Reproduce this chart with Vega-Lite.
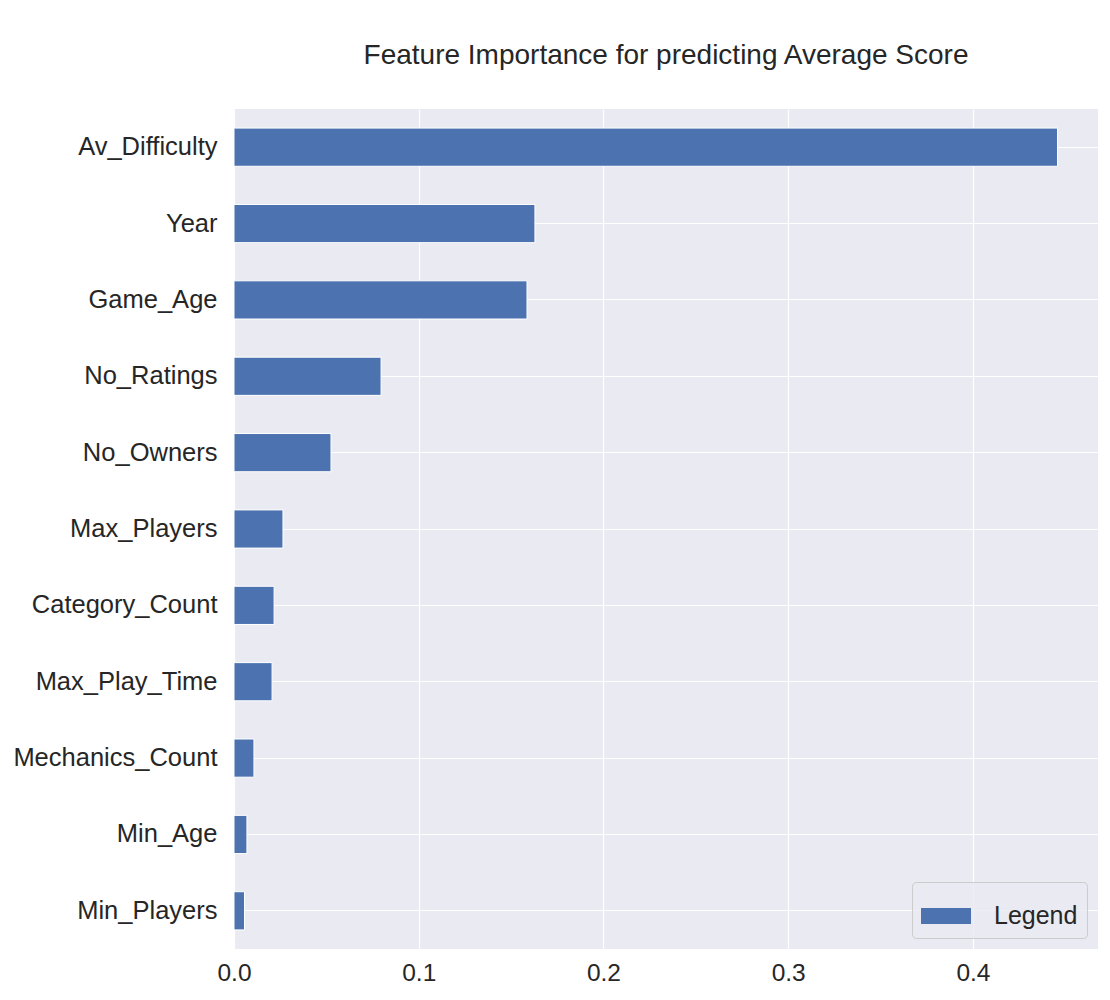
{
  "$schema": "https://vega.github.io/schema/vega-lite/v6.json",
  "width": 864,
  "height": 840,
  "autosize": {"type": "none"},
  "padding": {"left": 234, "top": 109, "right": 12, "bottom": 51},
  "background": "white",
  "title": {
    "text": "Feature Importance for predicting Average Score",
    "fontSize": 28,
    "font": "Liberation Sans",
    "fontWeight": "normal",
    "color": "#262626",
    "anchor": "middle",
    "offset": 39
  },
  "config": {
    "view": {"fill": "#EAEAF2", "stroke": null},
    "axis": {"labelFont": "Liberation Sans", "labelColor": "#262626", "domain": false, "ticks": false, "gridColor": "white", "gridWidth": 1.2, "gridOpacity": 1}
  },
  "data": {
    "values": [
      {"feature": "Av_Difficulty", "importance": 0.4458, "series": "Legend"},
      {"feature": "Year", "importance": 0.1629, "series": "Legend"},
      {"feature": "Game_Age", "importance": 0.1586, "series": "Legend"},
      {"feature": "No_Ratings", "importance": 0.0796, "series": "Legend"},
      {"feature": "No_Owners", "importance": 0.0525, "series": "Legend"},
      {"feature": "Max_Players", "importance": 0.0265, "series": "Legend"},
      {"feature": "Category_Count", "importance": 0.0217, "series": "Legend"},
      {"feature": "Max_Play_Time", "importance": 0.0206, "series": "Legend"},
      {"feature": "Mechanics_Count", "importance": 0.0108, "series": "Legend"},
      {"feature": "Min_Age", "importance": 0.0070, "series": "Legend"},
      {"feature": "Min_Players", "importance": 0.0057, "series": "Legend"}
    ]
  },
  "mark": {"type": "bar", "stroke": "white", "strokeWidth": 1},
  "encoding": {
    "y": {
      "field": "feature",
      "type": "nominal",
      "sort": null,
      "title": null,
      "scale": {"paddingInner": 0.5, "paddingOuter": 0.25},
      "axis": {"grid": true, "bandPosition": 0.5, "labelPadding": 17, "labelFontSize": 25.5, "labelLimit": 400}
    },
    "x": {
      "field": "importance",
      "type": "quantitative",
      "title": null,
      "scale": {"domain": [0, 0.4677], "nice": false, "zero": true},
      "axis": {"values": [0, 0.1, 0.2, 0.3, 0.4], "format": ".1f", "grid": true, "labelPadding": 12, "labelFontSize": 24.5, "labelFlush": false}
    },
    "color": {
      "field": "series",
      "type": "nominal",
      "scale": {"range": ["#4C72B0"]},
      "legend": {
        "title": null,
        "orient": "bottom-right",
        "offset": 11,
        "fillColor": "rgba(234,234,242,0.8)",
        "strokeColor": "#cccccc",
        "cornerRadius": 4,
        "padding": 9,
        "labelFont": "Liberation Sans",
        "labelFontSize": 25,
        "labelColor": "#262626",
        "labelOffset": 23,
        "labelLimit": 300,
        "symbolType": "M-1,-0.32L1,-0.32L1,0.32L-1,0.32Z",
        "symbolSize": 2500,
        "symbolStrokeWidth": 0,
        "symbolOpacity": 1
      }
    }
  }
}
